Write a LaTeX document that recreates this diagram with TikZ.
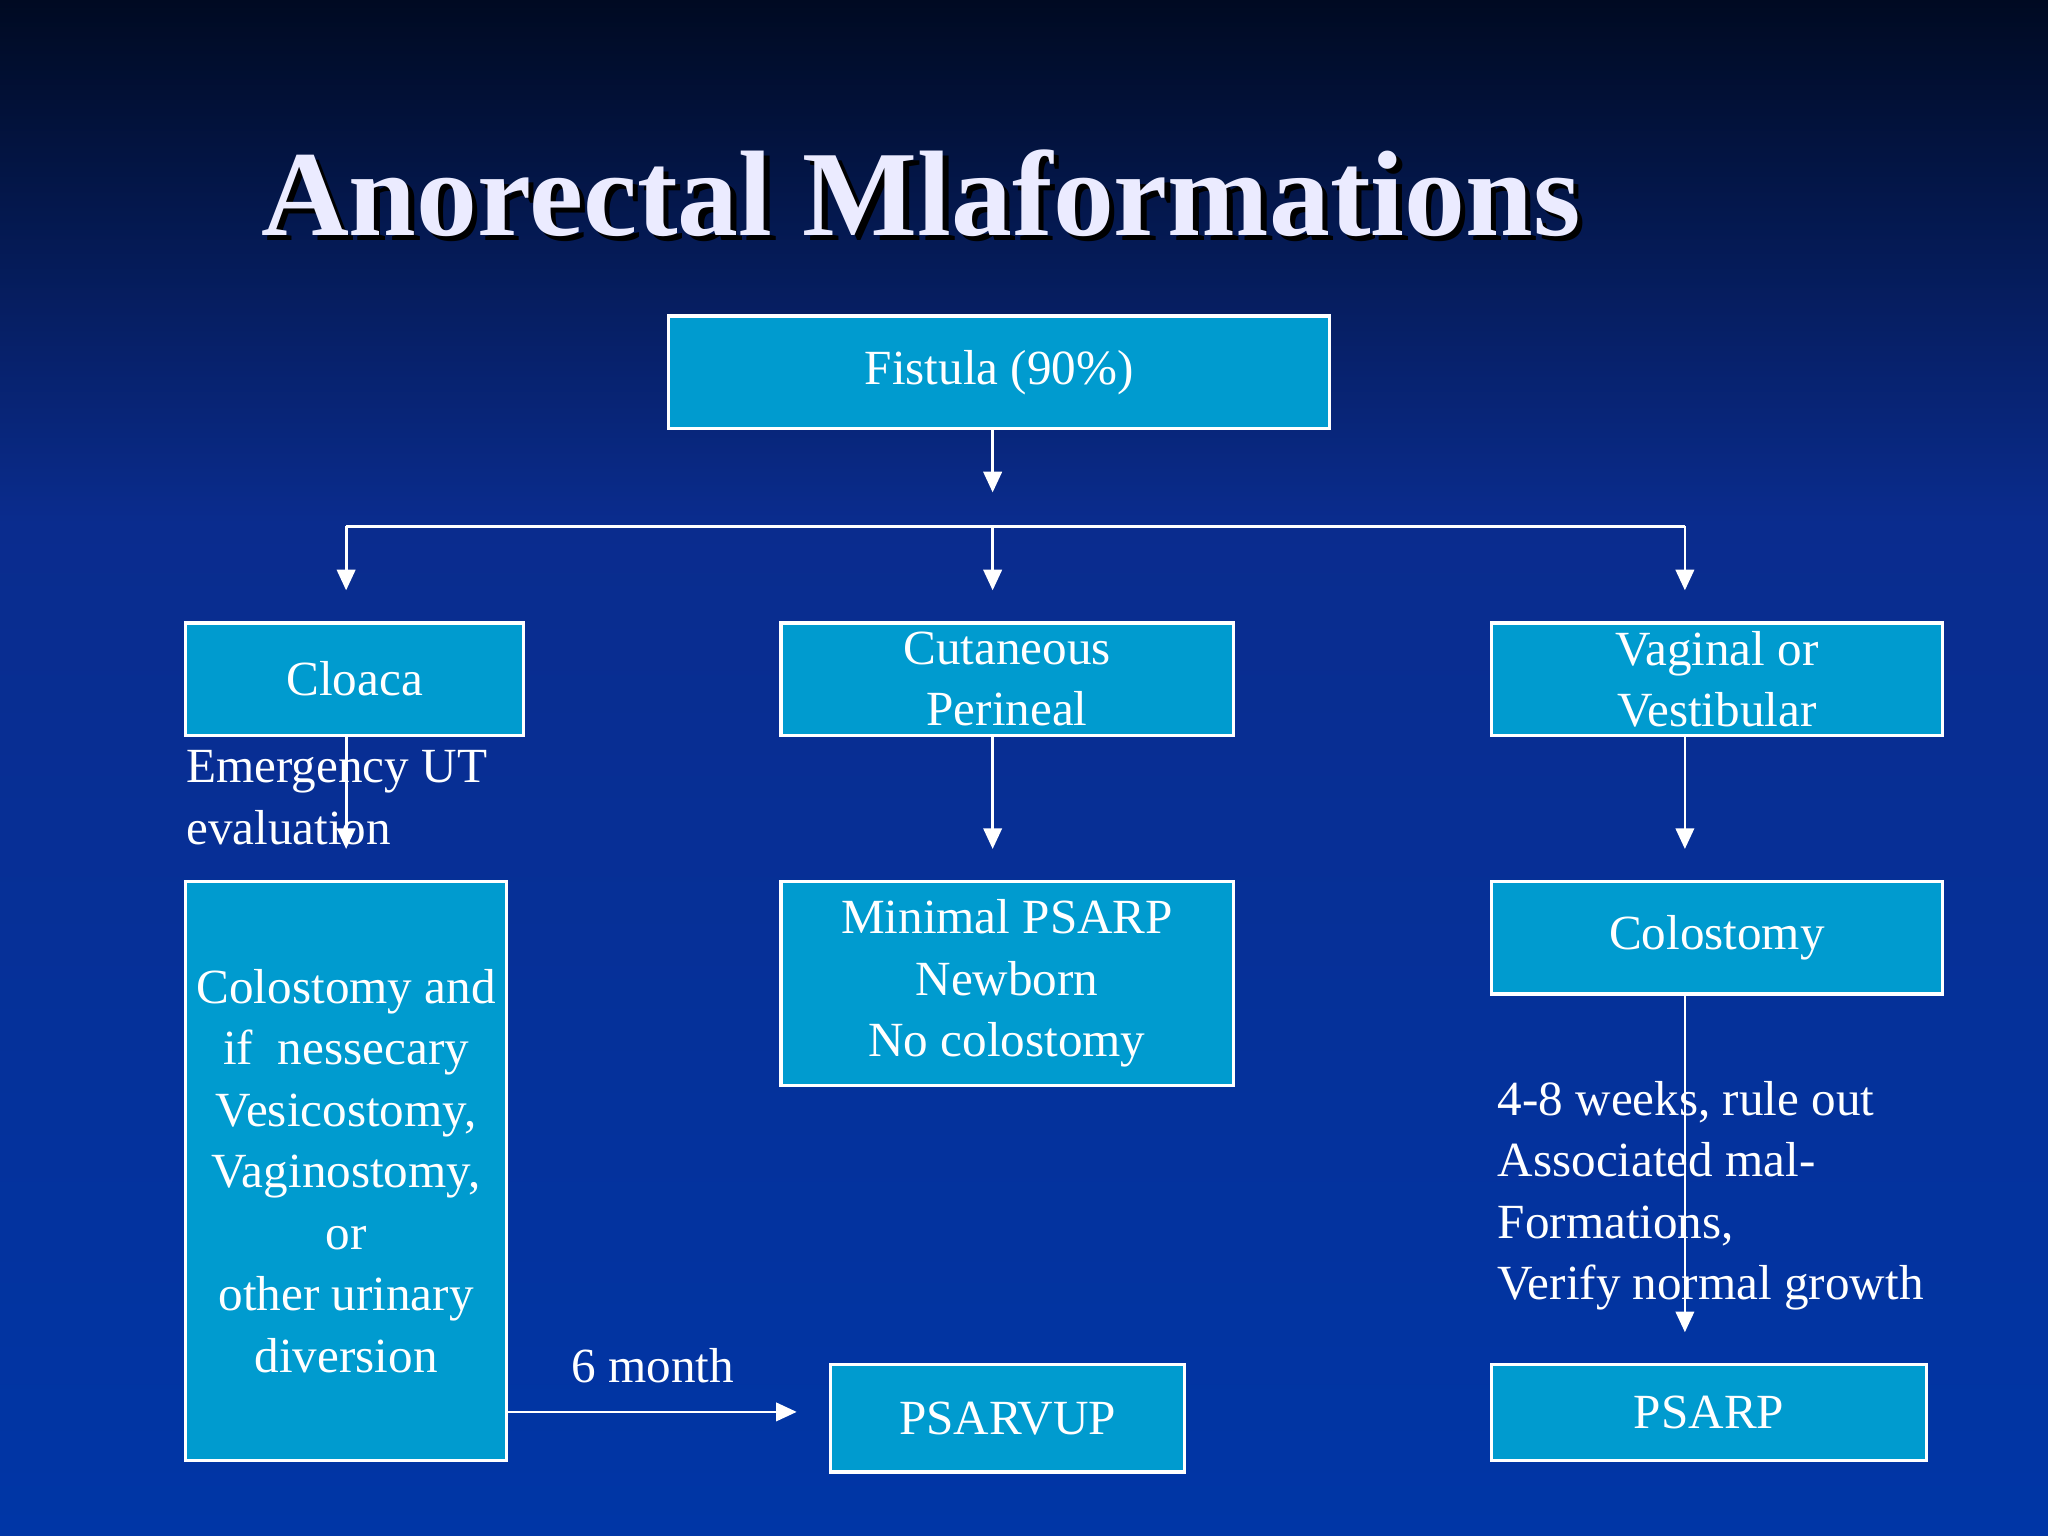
\documentclass[tikz,border=0pt]{standalone}
\usepackage{fontspec}
\setmainfont{Liberation Serif}
\usetikzlibrary{arrows.meta}
\definecolor{boxc}{HTML}{009BCF}
\definecolor{bgtop}{HTML}{000A22}
\definecolor{bgmid}{HTML}{0A2C8E}
\definecolor{bgbot}{HTML}{0036A6}
\begin{document}
\begin{tikzpicture}[x=0.01cm,y=-0.01cm,
  bx/.style={draw=white,line width=0.7pt,fill=boxc,text=white,font=\fontsize{10.7}{13.4}\selectfont,align=center,inner sep=0pt},
  ar/.style={draw=white,line width=0.6pt,-{Triangle[width=4pt,length=4.5pt]}},
  ln/.style={draw=white,line width=0.6pt},
  tx/.style={text=white,font=\fontsize{10.7}{13.4}\selectfont,inner sep=0pt}]
\useasboundingbox (0,0) rectangle (1568,1176);
\shade[top color=bgtop,bottom color=bgmid] (0,0) rectangle (1568,400);
\shade[top color=bgmid,bottom color=bgbot] (0,400) rectangle (1568,1176);
% title
\node[text=black,font=\fontsize{26.5}{30}\bfseries\selectfont] at (709,152) {Anorectal Mlaformations};
\node (title) [text=white!92!blue,font=\fontsize{26.5}{30}\bfseries\selectfont] at (705,148) {Anorectal Mlaformations};
% boxes
\node (fis) [bx,minimum width=5.06cm,minimum height=0.86cm] at (765,285) {Fistula (90\%)};
\node (clo) [bx,minimum width=2.59cm,minimum height=0.86cm] at (271.5,520) {Cloaca};
\node (cut) [bx,minimum width=3.46cm,minimum height=0.86cm] at (771,520) {Cutaneous\\Perineal};
\node (vag) [bx,minimum width=3.45cm,minimum height=0.86cm] at (1314.5,520) {Vaginal or\\Vestibular};
\node (col1) [bx,minimum width=2.46cm,minimum height=4.43cm] at (265,896.5) {Colostomy and\\if\ \ nessecary\\Vesicostomy,\\Vaginostomy,\\or\\other urinary\\diversion};
\node (min) [bx,minimum width=3.46cm,minimum height=1.56cm] at (771,753) {Minimal PSARP\\Newborn\\No colostomy};
\node (col2) [bx,minimum width=3.45cm,minimum height=0.86cm] at (1314.5,718) {Colostomy};
\node (psv) [bx,minimum width=2.71cm,minimum height=0.82cm] at (771.5,1086) {PSARVUP};
\node (psa) [bx,minimum width=3.33cm,minimum height=0.73cm] at (1308.5,1081.5) {PSARP};
% connectors
\coordinate (j) at (760,377);
\coordinate (hl) at (265,403);
\coordinate (hm) at (760,403);
\coordinate (hr) at (1290,403);
\draw[ar] (fis.south -| j) -- (j);
\draw[ln] (hl) -- (hr);
\draw[ar] (hl) -- (265,452);
\draw[ar] (hm) -- (760,452);
\draw[ar] (hr) -- (1290,452);
\coordinate (c1) at (265,650);
\coordinate (c2) at (760,650);
\coordinate (c3) at (1290,650);
\coordinate (c4) at (1290,1020);
\coordinate (c5) at (610,1081);
\draw[ar] (clo.south -| c1) -- (c1);
\draw[ar] (cut.south -| c2) -- (c2);
\draw[ar] (vag.south -| c3) -- (c3);
\draw[ar] (col2.south -| c4) -- (c4);
\draw[ar] (col1.east |- c5) -- (c5) node[tx,pos=0.5,above=6pt] {6 month};
% free texts
\node (emt) [tx,anchor=north west,align=left] at (142,574) {Emergency UT\\evaluation};
\node (wk) [tx,anchor=north west,align=left] at (1146,827) {4-8 weeks, rule out\\Associated mal-\\Formations,\\Verify normal growth};
\end{tikzpicture}
\end{document}
